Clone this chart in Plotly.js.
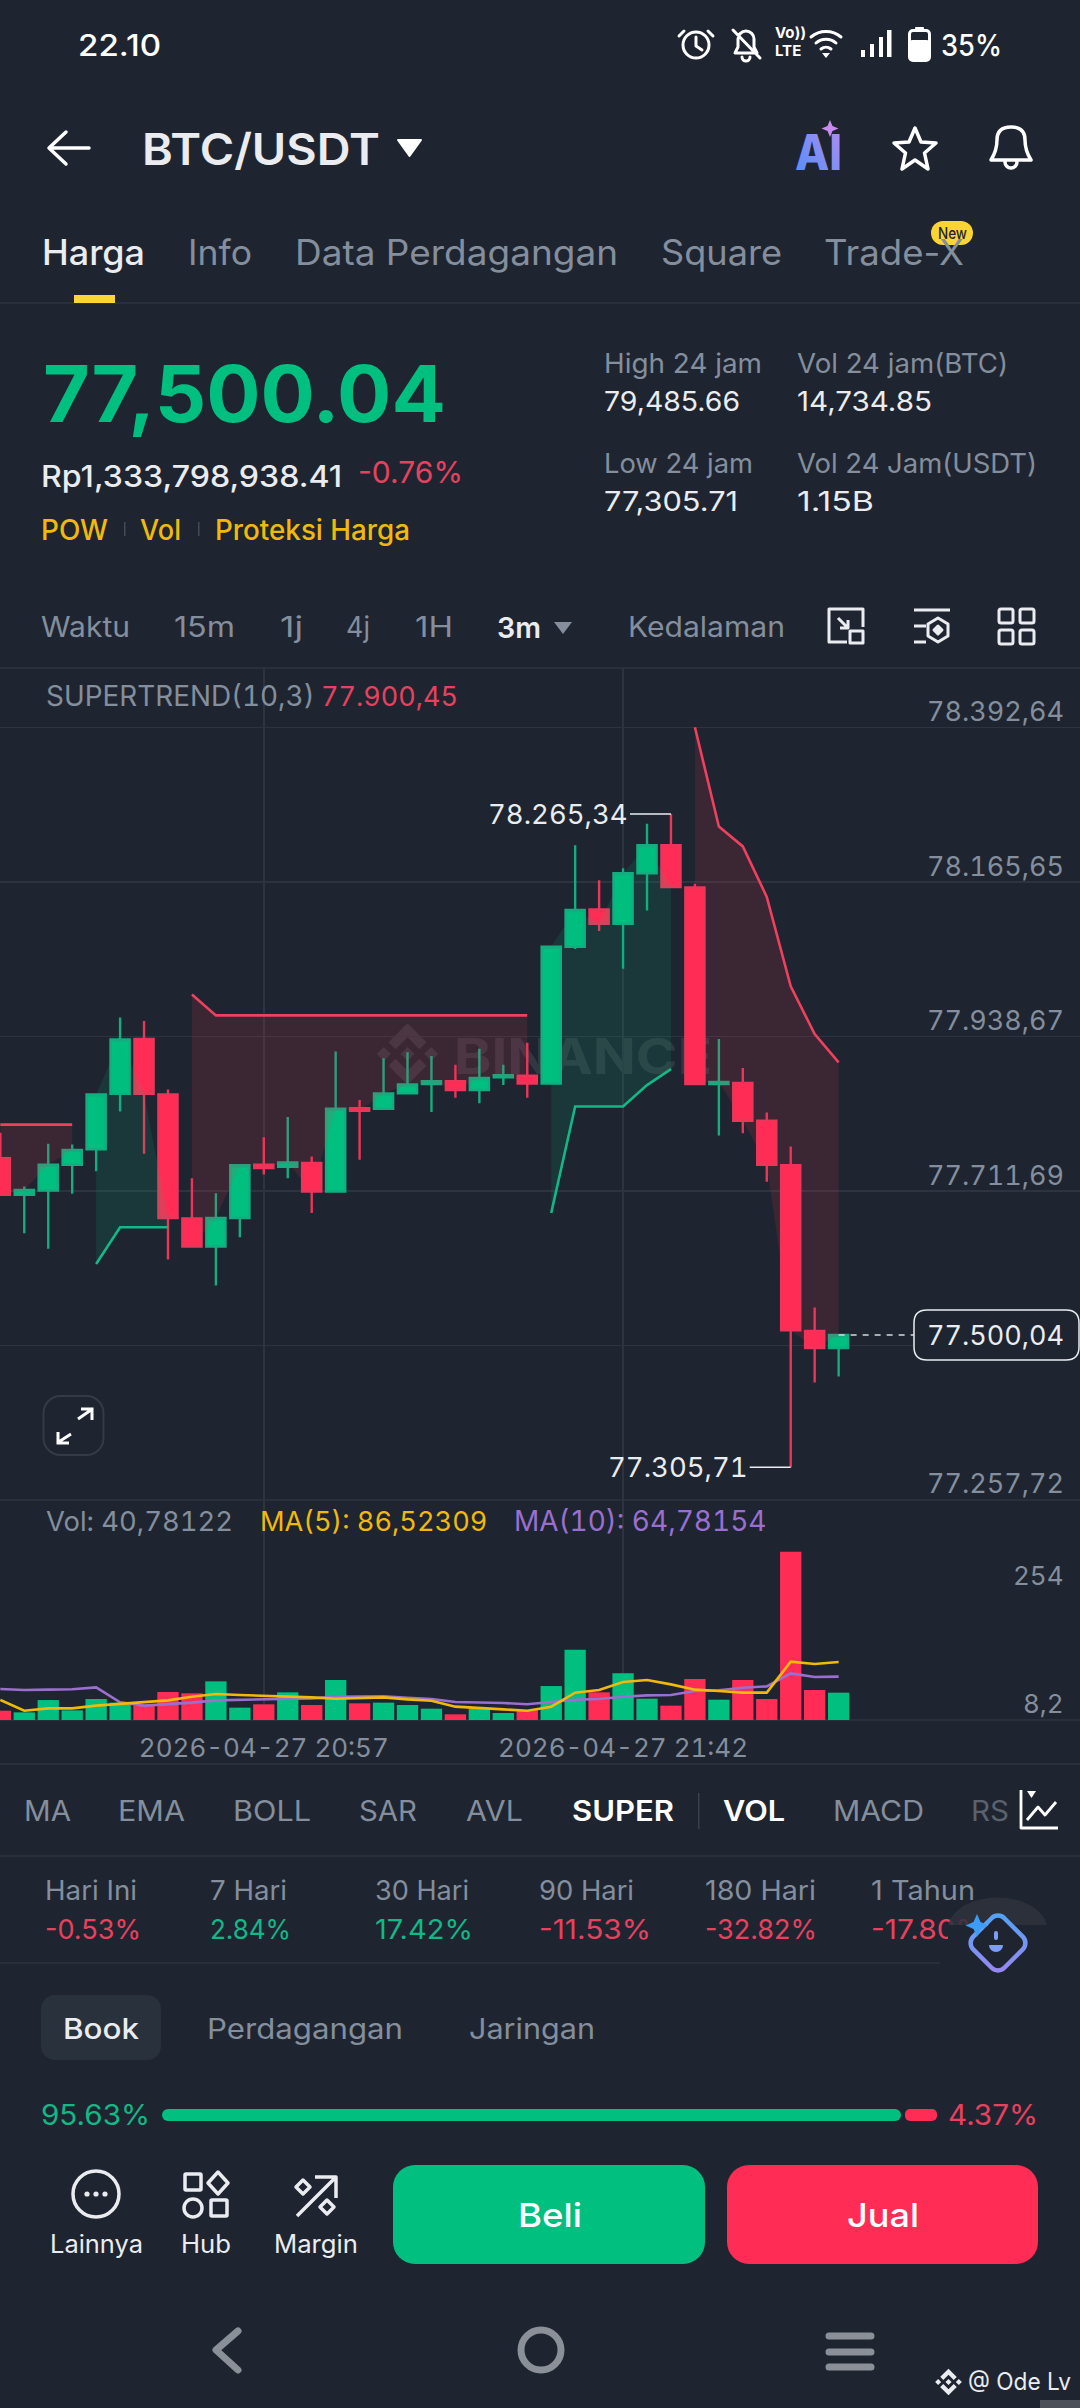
<!DOCTYPE html>
<html><head><meta charset="utf-8">
<script src="https://cdn.plot.ly/plotly-3.0.1.min.js"></script>
<style>
html,body{margin:0;padding:0;background:#1e2530;width:1080px;height:2408px;overflow:hidden;font-family:Inter,sans-serif}
#wm,#chart,#ui{position:absolute;left:0;top:0;width:1080px;height:2408px}
text{font-feature-settings:"tnum" 1;font-variant-numeric:tabular-nums}
.t{position:absolute;white-space:nowrap;transform-origin:left center;line-height:1}
svg.o{position:absolute;left:0;top:0}
</style></head><body>
<div id="wm"></div>
<div id="chart"></div>
<div id="ui"></div>
<script>
const times=["2026-04-27 20:24","2026-04-27 20:27","2026-04-27 20:30","2026-04-27 20:33","2026-04-27 20:36","2026-04-27 20:39","2026-04-27 20:42","2026-04-27 20:45","2026-04-27 20:48","2026-04-27 20:51","2026-04-27 20:54","2026-04-27 20:57","2026-04-27 21:00","2026-04-27 21:03","2026-04-27 21:06","2026-04-27 21:09","2026-04-27 21:12","2026-04-27 21:15","2026-04-27 21:18","2026-04-27 21:21","2026-04-27 21:24","2026-04-27 21:27","2026-04-27 21:30","2026-04-27 21:33","2026-04-27 21:36","2026-04-27 21:39","2026-04-27 21:42","2026-04-27 21:45","2026-04-27 21:48","2026-04-27 21:51","2026-04-27 21:54","2026-04-27 21:57","2026-04-27 22:00","2026-04-27 22:03","2026-04-27 22:06","2026-04-27 22:09"];
const opens=[77759.9,77705.9,77712.3,77750.2,77772.8,77854.2,77934.8,77853.4,77671.2,77630.1,77672.0,77750.2,77747.0,77752.6,77710.7,77833.2,77832.4,77855.0,77868.7,77872.7,77859.9,77878.4,77880.8,77869.5,78070.2,78125.0,78104.1,78178.2,78219.3,78157.3,77868.7,77870.3,77814.7,77749.4,77506.0,77481.0];
const highs=[77797.0,77718.0,77780.8,77780.0,77853.4,77966.2,77961.4,77860.6,77730.1,77708.3,77749.4,77790.5,77820.3,77762.3,77916.3,77845.3,77906.6,77915.5,77909.8,77896.9,77920.3,77896.9,77929.2,78070.2,78219.3,78167.8,78185.5,78250.8,78265.34,78162.9,77934.8,77892.1,77826.8,77776.8,77540.6,77500.04];
const lows=[77705.9,77649.5,77626.9,77707.5,77740.6,77828.4,77766.3,77610.8,77630.1,77572.9,77643.8,77735.7,77730.1,77679.3,77710.7,77757.5,77832.4,77853.4,77827.6,77848.6,77840.5,77867.1,77848.6,77869.5,78067.0,78093.6,78038.0,78123.4,78158.1,77868.7,77792.9,77796.2,77725.2,77305.71,77430.2,77439.1];
const closes=[77705.9,77713.1,77750.2,77772.0,77853.4,77934.0,77854.2,77672.0,77630.1,77672.0,77749.4,77745.4,77753.4,77710.7,77832.4,77829.2,77855.0,77867.9,77872.7,77859.9,77877.6,77881.6,77869.5,78070.2,78124.2,78104.1,78178.2,78219.3,78158.1,77868.7,77871.9,77814.7,77750.2,77506.8,77481.0,77500.04];
const volumes=[13.9,11.4,29.8,14.4,31.3,25.9,21.4,41.8,39.8,57.7,18.4,23.4,41.3,22.4,59.7,24.9,25.9,22.4,16.9,8.5,17.4,10.4,14.9,50.7,104.9,41.3,69.6,31.8,21.4,61.2,30.3,59.7,31.3,251.1,44.8,40.78];
const ma5=[29.8,13.9,17.4,17.4,21.4,23.9,26.9,29.3,34.8,38.8,37.3,36.3,35.8,33.8,31.8,33.3,33.8,30.8,28.8,19.9,18.4,15.9,13.9,19.9,40.8,44.8,56.7,59.7,53.2,45.3,43.3,40.8,40.8,87.0,83.5,86.52];
const ma10=[46.2,44.8,45.3,45.8,48.7,26.4,21.4,23.4,25.9,29.3,29.8,30.3,31.8,32.3,34.8,35.3,35.3,33.3,31.3,26.9,26.4,25.4,23.4,26.9,30.3,31.3,34.8,36.8,37.3,43.3,44.3,48.2,50.2,69.6,64.2,64.78];
const superDown=[77809.1,77809.1,77809.1,77809.1,null,null,null,null,78000.1,77969.5,77969.5,77969.5,77969.5,77969.5,77969.5,77969.5,77969.5,77969.5,77969.5,77969.5,77969.5,77969.5,77969.5,null,null,null,null,null,null,78392.64,78246.8,78217.7,78143.6,78012.2,77942.0,77900.45];
const superUp=[null,null,null,null,77604.3,77658.3,77658.3,77658.3,null,null,null,null,null,null,null,null,null,null,null,null,null,null,null,77679.3,77835.6,77835.6,77835.6,77867.1,77890.5,null,null,null,null,null,null,null];
const priceTicks=[78392.64,78165.65,77938.67,77711.69,77484.70,77257.72];
const priceTickLabels=["78.392,64","78.165,65","77.938,67","77.711,69","","77.257,72"];
const xTickTimes=["2026-04-27 20:57","2026-04-27 21:42"];
const lastPrice=77500.04, lastPriceLabel="77.500,04";
const highLabel="78.265,34", lowLabel="77.305,71";

const BG='#1e2530',GREEN='#00bf7f',RED='#ff2d55',GRID='#2d3440',MUTED='#848e9c',LIGHT='#eaecef',YEL='#f0b90b',PUR='#9a6fd0';
const FONT='Inter, sans-serif';
const px=x=>x/1080, py=y=>1-y/2408;

function runs(arr){const out=[];let s=-1;arr.forEach((v,i)=>{if(v!==null&&s<0)s=i;if((v===null||i===arr.length-1)&&s>=0){out.push([s,v===null?i:i+1]);s=-1;}});return out;}
const traces=[];
[[superDown,'rgba(255,45,85,0.13)','#f0405f'],[superUp,'rgba(0,191,127,0.12)','#12b886']].forEach(([arr,fill,lc])=>{
  runs(arr).forEach(([a,b])=>{
    traces.push({type:'scatter',mode:'lines',x:times.slice(a,b),y:closes.slice(a,b),line:{width:0},xaxis:'x',yaxis:'y',showlegend:false,hoverinfo:'skip'});
    traces.push({type:'scatter',mode:'lines',x:times.slice(a,b),y:arr.slice(a,b),line:{color:lc,width:2.6},fill:'tonexty',fillcolor:fill,xaxis:'x',yaxis:'y',showlegend:false,hoverinfo:'skip'});
  });
});
traces.push({type:'scatter',mode:'lines',x:[times[35],"2026-04-27 22:18:27"],y:[lastPrice,lastPrice],line:{color:'#d5d8dc',width:1.5,dash:'6px,6px'},xaxis:'x',yaxis:'y',showlegend:false,hoverinfo:'skip'});
traces.push({type:'candlestick',x:times,open:opens,high:highs,low:lows,close:closes,xaxis:'x',yaxis:'y',whiskerwidth:0,
  increasing:{line:{color:'#14ad80',width:2.4},fillcolor:GREEN},decreasing:{line:{color:'#ec3559',width:2.4},fillcolor:RED},showlegend:false,hoverinfo:'skip'});
traces.push({type:'bar',x:times,y:volumes,width:160200,marker:{color:closes.map((c,i)=>c>=opens[i]?GREEN:RED),line:{width:0}},xaxis:'x',yaxis:'y2',showlegend:false,hoverinfo:'skip'});
traces.push({type:'scatter',mode:'lines',x:times,y:ma10,line:{color:PUR,width:2.6},xaxis:'x',yaxis:'y2',showlegend:false,hoverinfo:'skip'});
traces.push({type:'scatter',mode:'lines',x:times,y:ma5,line:{color:YEL,width:2.6},xaxis:'x',yaxis:'y2',showlegend:false,hoverinfo:'skip'});

const ann=[];
const note=(text,x,y,size,color,anchor)=>ann.push({text,xref:'paper',yref:'paper',x:px(x),y:py(y),xanchor:anchor||'left',yanchor:'middle',showarrow:false,font:{family:FONT,size,color}});
priceTicks.forEach((v,i)=>{if(priceTickLabels[i])ann.push({text:priceTickLabels[i],xref:'paper',yref:'y',x:px(1066),y:v,xanchor:'right',yanchor:'middle',yshift:i===5?17:15.5,showarrow:false,font:{family:FONT,size:27,color:MUTED}});});
ann.push({text:lastPriceLabel,xref:'paper',yref:'y',x:px(1066),y:lastPrice,xanchor:'right',yanchor:'middle',showarrow:false,font:{family:FONT,size:27,color:LIGHT}});
ann.push({text:highLabel,x:times[28],y:highs[28],xref:'x',yref:'y',showarrow:true,arrowhead:0,arrowwidth:1.5,arrowcolor:LIGHT,ax:-41,ay:0,xanchor:'right',yanchor:'middle',standoff:0,font:{family:FONT,size:27.5,color:LIGHT}});
ann.push({text:lowLabel,x:times[33],y:lows[33],xref:'x',yref:'y',showarrow:true,arrowhead:0,arrowwidth:1.5,arrowcolor:LIGHT,ax:-41,ay:0,xanchor:'right',yanchor:'middle',standoff:0,font:{family:FONT,size:27.5,color:LIGHT}});
note('SUPERTREND(10,3)',44,696,27.9,MUTED);
note('77.900,45',319,696,27,'#e8415f');
note('Vol: 40,78122',44,1521,27.4,MUTED);
note('MA(5): 86,52309',258,1521,27.2,YEL);
note('MA(10): 64,78154',512,1521,28,PUR);
note('254',1066,1575,26,MUTED,'right');
note('8,2',1066,1703,26,MUTED,'right');

const rr=(x0,y0,x1,y1,r)=>{const X=px,Y=py;return `M${X(x0+r)},${Y(y0)}L${X(x1-r)},${Y(y0)}Q${X(x1)},${Y(y0)} ${X(x1)},${Y(y0+r)}L${X(x1)},${Y(y1-r)}Q${X(x1)},${Y(y1)} ${X(x1-r)},${Y(y1)}L${X(x0+r)},${Y(y1)}Q${X(x0)},${Y(y1)} ${X(x0)},${Y(y1-r)}L${X(x0)},${Y(y0+r)}Q${X(x0)},${Y(y0)} ${X(x0+r)},${Y(y0)}Z`;};

const layout={width:1080,height:2408,margin:{l:0,r:0,t:0,b:0},paper_bgcolor:'rgba(0,0,0,0)',plot_bgcolor:'rgba(0,0,0,0)',showlegend:false,boxgap:0.2,boxgroupgap:0,
  xaxis:{type:'date',anchor:'y2',domain:[0,1],range:['2026-04-27 20:23:57.5','2026-04-27 22:39:14'],rangeslider:{visible:false},
    tickmode:'array',tickvals:xTickTimes,ticktext:xTickTimes,ticks:'',showgrid:true,gridcolor:GRID,gridwidth:1.5,zeroline:false,showline:false,ticklabelstandoff:10,
    tickfont:{family:FONT,size:26,color:MUTED}},
  yaxis:{domain:[py(1500),py(668)],range:[77257.72,78479.7],tickmode:'array',tickvals:priceTicks,showticklabels:false,showgrid:true,gridcolor:GRID,gridwidth:1.5,zeroline:false,showline:false,anchor:'x'},
  yaxis2:{domain:[py(1720),py(1500)],range:[0,328.4],tickmode:'array',tickvals:[0],showticklabels:false,showgrid:true,gridcolor:GRID,gridwidth:1.5,zeroline:false,showline:false,anchor:'x'},
  annotations:ann,
  shapes:[{type:'path',xref:'paper',yref:'paper',path:rr(914,1310,1079,1360,13),fillcolor:BG,line:{color:LIGHT,width:1.5},layer:'above'}]
};
Plotly.newPlot('chart',traces,layout,{staticPlot:true,displayModeBar:false});

// ---- app chrome -----
const ui=document.getElementById('ui');
function T(text,x0,x1,yc,size,color,weight,host){
  const s=document.createElement('span');s.className='t';s.textContent=text;
  s.style.cssText=`left:${x0}px;top:${yc}px;font-size:${size}px;color:${color};font-weight:${weight||400};`;
  (host||ui).appendChild(s);
  const w=s.getBoundingClientRect().width;
  s.style.transform=`translateY(-50%) scaleX(${(x1-x0)/w})`;
  return s;
}
const W='#eaecef';
const G=MUTED;
const logo=`<symbol id="bn" viewBox="0 0 126 126"><path d="M38.73 53.2L63 28.93l24.28 24.28 14.12-14.12L63 .69 24.61 39.08zM.69 63l14.12-14.12L28.93 63 14.81 77.12zM38.73 72.8L63 97.07l24.28-24.28 14.13 14.11L63 125.31 24.61 86.92l-.02-.02zM97.07 63l14.12-14.12L125.31 63l-14.12 14.12zM77.32 63L63 48.67 52.41 59.26l-1.22 1.22-2.51 2.51L63 77.32 77.32 63z"/></symbol>`;
const wmHost=document.getElementById('wm');
wmHost.insertAdjacentHTML('beforeend',`<svg class="o" width="1080" height="2408" viewBox="0 0 1080 2408" xmlns="http://www.w3.org/2000/svg"><defs>${logo}</defs>
<path d="M0 668H1080M0 1500H1080M0 1720H1080M0 1764H1080M0 303H1080M0 1856H1080M0 1963H940" stroke="${GRID}" stroke-width="1.5" fill="none"/>
<use href="#bn" x="375" y="1023" width="65" height="62" fill="#fff" fill-opacity="0.09"/></svg>`);
T('BINANCE',454,712,1056,50,'rgba(255,255,255,0.09)',700,wmHost);
T('1 Tahun',871,975,1890,27,G);
T('-17.80%',871,985,1929,27,'#e8415f');
const svgNS=`<svg class="o" width="1080" height="2408" viewBox="0 0 1080 2408" xmlns="http://www.w3.org/2000/svg">
<defs>
<linearGradient id="ai" x1="0" y1="1" x2="1" y2="0"><stop offset="0" stop-color="#4f8ff7"/><stop offset="1" stop-color="#b58cf0"/></linearGradient>
<linearGradient id="fc" x1="0" y1="0" x2="1" y2="1"><stop offset="0" stop-color="#4fa4f5"/><stop offset="1" stop-color="#9b86f2"/></linearGradient>
${logo.replace('id="bn"','id="bn2"')}
</defs>
<!-- status bar -->
<g fill="none" stroke="#fff" stroke-width="3" stroke-linecap="round" stroke-linejoin="round">
<circle cx="696" cy="45" r="13"/><path d="M696 37V46L702 50M684 31l-5 5M708 31l5 5"/>
<path d="M735 53H757L754 47V39A8 8 0 0 0 738 39V47Z M742 57a4 4 0 0 0 8 0 M733 30L760 58"/>
<path d="M811 37a23 23 0 0 1 30 0M816 43a15 15 0 0 1 20 0M821 49a8 8 0 0 1 10 0"/>
</g>
<path d="M822 53h8l-4 5z" fill="#fff"/>
<text x="775" y="38" font-size="15" font-weight="700" fill="#fff" font-family="Inter">Vo))</text>
<text x="775" y="56" font-size="15" font-weight="700" fill="#fff" font-family="Inter">LTE</text>
<g fill="#fff"><rect x="861" y="50" width="4" height="7"/><rect x="870" y="44" width="4" height="13"/><rect x="879" y="37" width="4" height="20"/><rect x="887" y="30" width="4.5" height="27"/>
<rect x="915" y="27" width="9" height="4" rx="1"/><rect x="909.5" y="30.5" width="20" height="30" rx="3.5" fill="none" stroke="#fff" stroke-width="3"/><rect x="909.5" y="40" width="20" height="20.5" rx="3"/></g>
<!-- header -->
<g fill="none" stroke="#fff" stroke-width="3.5" stroke-linecap="round" stroke-linejoin="round">
<path d="M89 148H50M66 132L49 148L66 164"/>
<path d="M915 128L921 142L936 143L924.5 153L928 169L915 160L902 169L905.5 153L894 143L909 142Z"/>
<path d="M991 160C996 152 997 146 997 140C997 130 1003 127 1011 127C1019 127 1025 130 1025 140C1025 146 1026 152 1031 160ZM1005 162a6 6 0 0 0 12 0"/>
</g>
<path d="M398 140H421L409.5 156Z" fill="#fff" stroke="#fff" stroke-width="2" stroke-linejoin="round"/>
<text x="795" y="170" font-size="50" font-weight="800" fill="url(#ai)" font-family="Inter" textLength="47" lengthAdjust="spacingAndGlyphs">AI</text>
<path d="M830 120l2.5 6 6 2.5-6 2.5-2.5 6-2.5-6-6-2.5 6-2.5z" fill="#c98bf0"/>
<rect x="74" y="295" width="41" height="8" fill="#fcd535"/>
<rect x="124" y="522" width="1.5" height="14" fill="#444b57"/><rect x="198" y="522" width="1.5" height="14" fill="#444b57"/>
<rect x="931" y="221" width="42" height="24" rx="12" fill="#fcd535"/>
<!-- timeframe icons -->
<path d="M554 622H572L563 634Z" fill="${MUTED}"/>
<g fill="none" stroke="${W}" stroke-width="3" stroke-linejoin="round">
<path d="M847 642H829V609H863V627"/><rect x="850" y="631" width="13" height="12"/><path d="M838 618L848 628M848 620V628H840"/>
<path d="M914 610H950M914 626H926M914 642H926M938 618L948 624V636L938 642L928 636V624Z"/><path d="M938 626l4 4-4 4-4-4z" fill="${W}"/>
<rect x="999" y="609" width="14" height="14" rx="2"/><rect x="1020" y="609" width="14" height="14" rx="2"/><rect x="999" y="630" width="14" height="14" rx="2"/><rect x="1020" y="630" width="14" height="14" rx="2"/>
</g>
<!-- expand -->
<rect x="43.5" y="1396" width="60" height="59" rx="17" fill="none" stroke="#333b47" stroke-width="2"/>
<g fill="none" stroke="#fff" stroke-width="3"><path d="M57 1443L71 1434M58 1432V1443H69M78 1419L91 1410M81 1409H92V1420"/></g>
<!-- indicators -->
<rect x="698" y="1793" width="1.5" height="36" fill="#39414d"/>
<g fill="none" stroke="#fff" stroke-width="2.8" stroke-linejoin="round"><path d="M1021 1790V1828H1058M1027 1820L1038 1807L1045 1815L1056 1802"/></g>
<path d="M1027 1791h9l-4.5 7z" fill="#fff"/>
<!-- bar -->
<rect x="162" y="2109" width="739" height="12" rx="6" fill="${GREEN}"/>
<rect x="905" y="2109" width="32" height="12" rx="5" fill="${RED}"/>
<rect x="393" y="2165" width="312" height="99" rx="22" fill="${GREEN}"/>
<rect x="727" y="2165" width="311" height="99" rx="22" fill="${RED}"/>
<rect x="41" y="1995" width="120" height="65" rx="14" fill="#29313d"/>
<!-- bottom icons -->
<g fill="none" stroke="${W}" stroke-width="3.5" stroke-linejoin="round">
<circle cx="96" cy="2194" r="23"/>
<rect x="185" y="2174" width="16" height="16" rx="1"/><path d="M218 2172L228 2183L218 2194L208 2183Z"/><circle cx="193" cy="2208" r="9"/><rect x="211" y="2200" width="16" height="16" rx="1"/>
<path d="M297 2216L335 2178M315 2177H336V2198"/><path d="M303 2180L310 2187L303 2194L296 2187Z"/><path d="M327 2200L334 2207L327 2214L320 2207Z"/>
</g>
<g fill="${W}"><circle cx="87" cy="2194" r="2.6"/><circle cx="96" cy="2194" r="2.6"/><circle cx="105" cy="2194" r="2.6"/></g>
<!-- nav -->
<g fill="none" stroke="#8b9098" stroke-width="7" stroke-linecap="round" stroke-linejoin="round">
<path d="M238 2331L216 2350L238 2370"/><circle cx="541" cy="2350" r="20"/><path d="M829 2336H871M829 2352H871M829 2367H871"/>
</g>
<use href="#bn2" x="935" y="2368" width="27" height="28" fill="${W}"/>
<rect x="1040" y="2400" width="40" height="8" fill="#4c5159"/>
<!-- floating -->
<rect x="948" y="1925" width="100" height="50" fill="${BG}"/>
<path d="M948 1925A50 32 0 0 1 1047 1925Z" fill="#2e333d" fill-opacity="0.85"/>
<g transform="translate(998 1943) rotate(45)"><rect x="-22" y="-22" width="44" height="44" rx="9" fill="${BG}" stroke="url(#fc)" stroke-width="4.5"/></g>
<path d="M977 1914l3.5 8 8 3.5-8 3.5-3.5 8-3.5-8-8-3.5 8-3.5z" fill="#3b9df5"/>
<g fill="#7f9cf5"><rect x="994" y="1931" width="4" height="9" rx="2"/><path d="M989 1945h14a7 7 0 0 1-14 0z"/></g>
</svg>`;
ui.insertAdjacentHTML('beforeend',svgNS);
T('22.10',78,161,45,30,'#fff',500);
T('35%',941,1002,45,30,'#fff',500);
T('BTC/USDT',142,380,149,44,W,600);
T('Harga',42,145,252,35,W,500);
T('Info',188,252,252,35,G);
T('Data Perdagangan',295,618,252,35,G);
T('Square',661,782,252,35,G);
T('Trade-X',824,964,252,35,G);
T('New',938,967,233,16,'#1e2530',500);
T('77,500.04',43,446,393.5,78,GREEN,700);
T('Rp1,333,798,938.41',41,342,476,30,W,500);
T('-0.76%',358,463,472,30,'#e8415f');
T('POW',41,108,530,28,YEL,500);
T('Vol',140,181,530,28,YEL,500);
T('Proteksi Harga',215,410,530,28,YEL,500);
T('High 24 jam',604,762,363,27,G);
T('79,485.66',604,740,401,27,W);
T('Vol 24 jam(BTC)',797,1008,363,27,G);
T('14,734.85',797,932,401,27,W);
T('Low 24 jam',604,753,463,27,G);
T('77,305.71',604,738,501,27,W);
T('Vol 24 Jam(USDT)',797,1037,463,27,G);
T('1.15B',797,874,501,27,W);
T('Waktu',41,130,627,28,G);
T('15m',174,235,627,28,G);
T('1j',280,303,627,28,G);
T('4j',346,370,627,28,G);
T('1H',415,453,627,28,G);
T('3m',497,541,627,29,W,600);
T('Kedalaman',628,785,627,28,G);
T('MA',24,71,1811,28,G);
T('EMA',118,185,1811,28,G);
T('BOLL',233,311,1811,28,G);
T('SAR',359,417,1811,28,G);
T('AVL',466,523,1811,28,G);
T('SUPER',572,674,1811,28,'#fff',600);
T('VOL',723,785,1811,28,'#fff',600);
T('MACD',833,924,1811,28,G);
T('RS',971,1009,1811,28,'#5a626e');
[['Hari Ini','-0.53%',45,137,141,'r'],['7 Hari','2.84%',210,287,291,'g'],['30 Hari','17.42%',375,469,473,'g'],['90 Hari','-11.53%',539,634,651,'r'],['180 Hari','-32.82%',705,816,817,'r']].forEach(([a,b,x,x1,x2,c])=>{
  T(a,x,x1,1890,27,G);T(b,x,x2,1929,27,c==='r'?'#e8415f':'#12b886');
});
T('Book',63,139,2029,28,W,500);
T('Perdagangan',207,403,2029,28,G,400);
T('Jaringan',469,595,2029,28,G,400);
T('95.63%',41,150,2115,28,'#12b886');
T('4.37%',948,1038,2115,28,'#e8415f');
T('Beli',518,582,2215,33,'#fff',500);
T('Jual',847,919,2215,33,'#fff',500);
T('Lainnya',50,143,2244,25,W);
T('Hub',181,231,2244,25,W);
T('Margin',274,358,2244,25,W);
T('@ Ode Lv',968,1071,2382,24,W);
</script>
</body></html>
